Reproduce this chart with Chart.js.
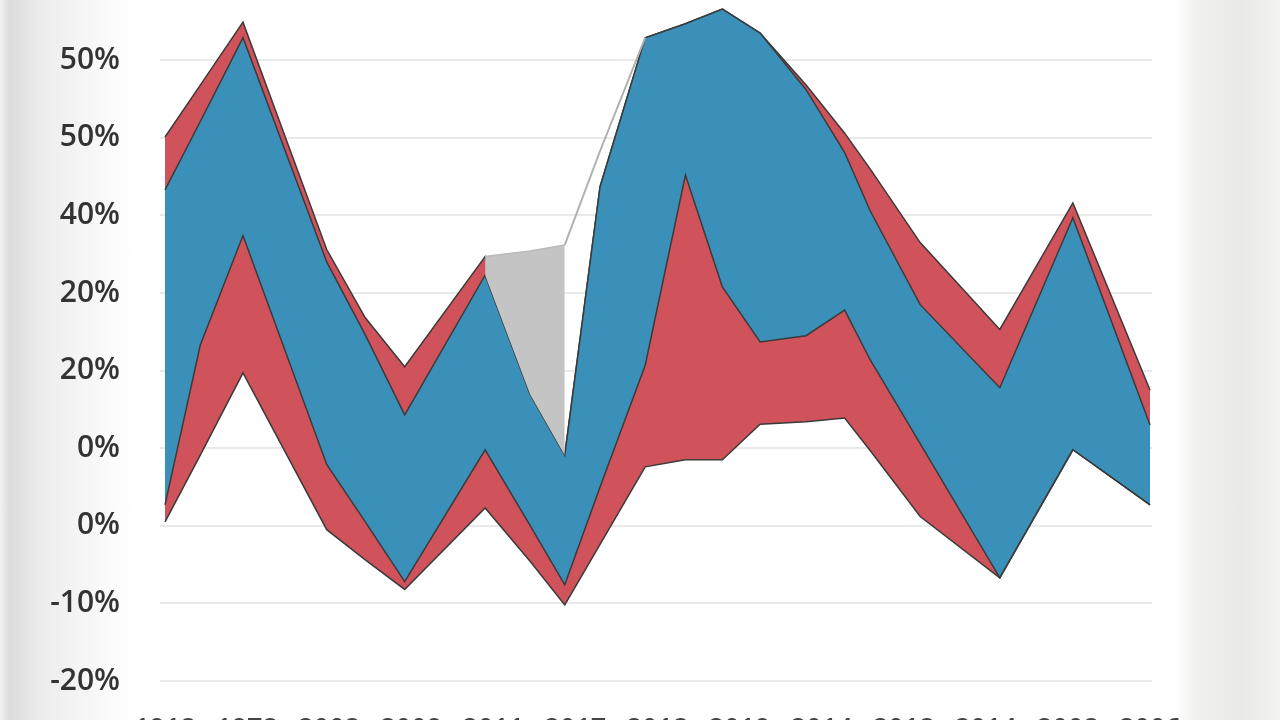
<!DOCTYPE html>
<html>
<head>
<meta charset="utf-8">
<script src="https://cdn.jsdelivr.net/npm/chart.js@4.4.1/dist/chart.umd.min.js"></script>
<style>
  html, body {
    margin: 0;
    padding: 0;
    width: 1280px;
    height: 720px;
    overflow: hidden;
    background: linear-gradient(to right, #f2f2f2 0px, #dcdcdc 10px, #ececec 40px, #fbfbfb 110px, #ffffff 140px, #ffffff 1175px, #f1f1ef 1195px, #e9e9e6 1240px, #f3f3f1 1280px);
  }
  #wrap { position: relative; width: 1280px; height: 760px; }
</style>
</head>
<body>
<div id="wrap">
  <canvas id="myChart" width="1280" height="760"></canvas>
</div>
<script>
'use strict'

// x axis labels (mostly cut off at the bottom of the picture)
const years = ['1918', '1978', '2008', '2009', '2011', '2017', '2018', '2019', '2014', '2018', '2014', '2008', '2006'];

// y tick labels, one per gridline from -20 up to 60
const yTickLabels = ['-20%', '-10%', '0%', '0%', '20%', '20%', '40%', '50%', '50%'];

// where each vertex sits along the x axis (in label units)
const xPos = [0, 0.43, 0.95, 1.97, 2.44, 2.92, 3.90, 4.45, 4.87, 5.30, 5.85, 6.34, 6.79, 7.25, 7.81, 8.28, 8.59, 9.20, 10.17, 11.06, 12.00];

// band boundaries, bottom to top
const baseLine   = [0.5, 9.1, 19.7, -0.5, -4.4, -8.2, 2.3, -4.6, -10.2, -2.4, 7.6, 8.5, 8.5, 13.1, 13.4, 13.9, 9.7, 1.2, -6.7, 9.8, 2.7];
const lowerRed   = [2.7, 23.3, 37.4, 7.9, 0.5, -7.2, 9.8, 0, -7.6, 5.0, 20.7, 45.2, 30.8, 23.7, 24.5, 27.8, 21.4, 10.6, -6.7, 9.8, 2.7];
const blueBand   = [43.3, 52.1, 62.9, 34.0, 24.6, 14.3, 32.3, 16.9, 9.1, 43.7, 62.9, 64.7, 66.6, 63.5, 56.2, 48.1, 40.6, 28.5, 17.8, 39.7, 13.0];
const upperRed   = [50.1, 56.8, 64.9, 35.6, 26.8, 20.5, 34.7, 16.9, 9.1, 43.7, 62.9, 64.7, 66.6, 63.5, 56.8, 50.6, 46.0, 36.5, 25.3, 41.6, 17.5];
const grayBand   = [null, null, null, null, null, null, 34.7, 35.4, 36.2, null, null, null, null, null, null, null, null, null, null, null, null];
const grayLine   = [null, null, null, null, null, null, null, null, 36.2, 48.3, 62.9, null, null, null, null, null, null, null, null, null, null];

const RED = '#d0525a';
const BLUE = '#3a90b8';
const GRAY = '#c4c4c4';
const EDGE = '#3a3a3a';

function pts(values) {
  return values.map((v, i) => ({ x: xPos[i], y: v }));
}

const data = {
  datasets: [
    { label: 'base', data: pts(baseLine), fill: false, borderColor: EDGE },
    { label: 'lower red', data: pts(lowerRed), fill: '-1', backgroundColor: RED, borderColor: EDGE },
    { label: 'blue', data: pts(blueBand), fill: '-1', backgroundColor: BLUE, borderColor: EDGE },
    { label: 'upper red', data: pts(upperRed), fill: '-1', backgroundColor: RED, borderColor: EDGE },
    { label: 'gray', data: pts(grayBand), fill: 2, backgroundColor: GRAY, borderColor: '#b9b9b9', borderWidth: 1.5, order: -1 },
    { label: 'gray line', data: pts(grayLine), fill: false, borderColor: '#b0b0b0', borderWidth: 2, order: -2 }
  ]
};

const config = {
  type: 'line',
  data: data,
  options: {
    responsive: false,
    animation: false,
    spanGaps: false,
    layout: { padding: { top: 0, right: 128, bottom: 0, left: 0 } },
    elements: {
      line: { tension: 0, borderWidth: 1.5 },
      point: { radius: 0, hoverRadius: 0 }
    },
    plugins: {
      legend: { display: false },
      tooltip: { enabled: false }
    },
    scales: {
      x: {
        type: 'linear',
        min: -0.061,
        max: 12.024,
        grid: { display: false },
        border: { display: false },
        afterBuildTicks: function (scale) {
          scale.ticks = years.map((y, i) => ({ value: i }));
        },
        afterFit: function (scale) { scale.height = 79; },
        ticks: {
          autoSkip: false,
          maxRotation: 0,
          padding: 24,
          color: '#444',
          font: { family: 'Open Sans', size: 27, weight: '600' },
          callback: function (v) { return years[v] || ''; }
        }
      },
      y: {
        min: -20,
        max: 67.76,
        grid: { color: '#e9e9e9', lineWidth: 2, drawTicks: false },
        border: { display: false },
        afterBuildTicks: function (scale) {
          scale.ticks = yTickLabels.map((t, i) => ({ value: -20 + i * 10 }));
        },
        afterFit: function (scale) {
          scale.width = 160;
          // tick padding would otherwise push the plot area down
          scale.paddingTop = 0;
          scale.paddingBottom = 0;
        },
        ticks: {
          padding: 40,
          color: '#333',
          font: { family: 'Open Sans', size: 30, weight: '600' },
          callback: function (v) { return yTickLabels[Math.round((v + 20) / 10)]; }
        }
      }
    }
  }
};

new Chart(document.getElementById('myChart'), config);
</script>
</body>
</html>
